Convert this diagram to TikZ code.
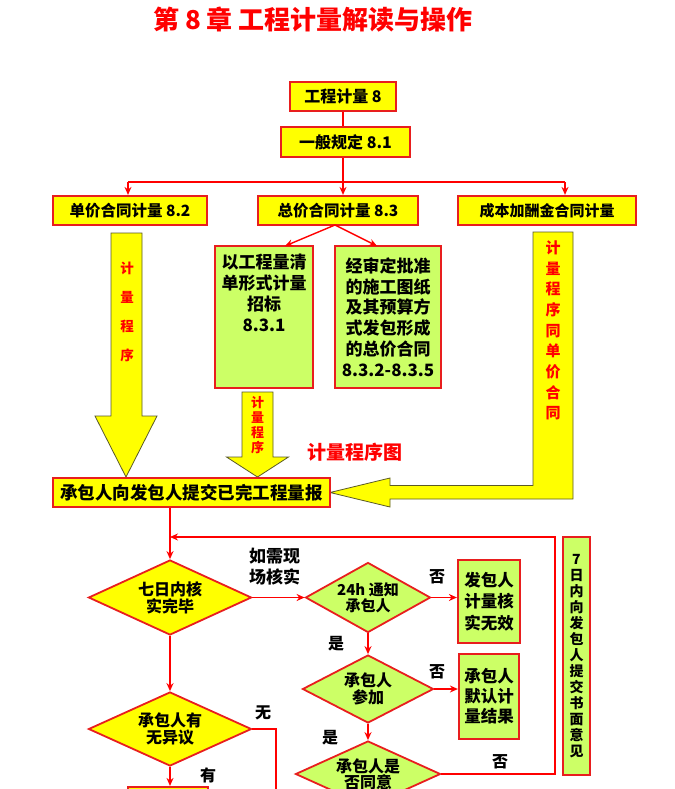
\documentclass[tikz,border=0pt]{standalone}
\usepackage{fontspec}
\setmainfont{Noto Sans CJK SC}
\usetikzlibrary{shapes.geometric,arrows.meta}
\definecolor{ylw}{RGB}{255,255,0}
\definecolor{lgreen}{RGB}{204,255,102}
\definecolor{bred}{RGB}{232,30,30}
\definecolor{olv}{RGB}{90,90,40}
\begin{document}
\begin{tikzpicture}[x=1pt,y=-1pt,
  conn/.style={draw=red, line width=1.4pt},
  arr/.style={conn, -{Stealth[length=8pt,width=7pt]}},
  box/.style={rectangle, draw=bred, line width=2.2pt, fill=ylw, inner sep=0pt, align=center, font=\bfseries\fontsize{15.5}{18}\selectfont},
  gbox/.style={box, fill=lgreen, font=\bfseries\fontsize{17}{20.8}\selectfont},
  dia/.style={diamond, draw=bred, line width=1.8pt, fill=ylw, inner sep=0pt, shape aspect=2, align=center, font=\bfseries\fontsize{16}{17}\selectfont},
  bigarrow/.style={draw=olv, line width=0.8pt, fill=ylw, line join=miter},
  rtxt/.style={text=red, align=center, inner sep=0pt},
  lbl/.style={font=\bfseries\fontsize{16}{20}\selectfont, inner sep=0pt, align=left}
]
\useasboundingbox (0,0) rectangle (674,789);
\fill[white] (0,0) rectangle (674,789);
\clip (0,0) rectangle (674,789);

% title
\node[text=red, font=\bfseries\fontsize{26}{29}\selectfont, inner sep=0pt] (title) at (313,20) {第 8 章 工程计量解读与操作};

% top boxes
\node[box, minimum width=106, minimum height=29, font=\bfseries\fontsize{16}{18}\selectfont] (b1) at (343,96.5) {工程计量 8};
\node[box, minimum width=129, minimum height=30, font=\bfseries\fontsize{16}{18}\selectfont] (b2) at (345.5,142) {一般规定 8.1};
\node[box, minimum width=154, minimum height=29] (b3) at (130,210.5) {单价合同计量 8.2};
\node[box, minimum width=160, minimum height=29] (b4) at (338,210.5) {总价合同计量 8.3};
\node[box, minimum width=178, minimum height=29, font=\bfseries\fontsize{15}{18}\selectfont] (b5) at (547,210.5) {成本加酬金合同计量};

\coordinate (j) at (343,182);
\coordinate (jl) at (128,182);
\coordinate (jr) at (565,182);
\draw[conn] (b1.south -| j) -- (j |- b2.north);
\draw[conn] (j |- b2.south) -- (j);
\draw[conn] (jl) -- (jr);
\draw[arr] (jl) -- (jl |- b3.north);
\draw[arr] (j) -- (j |- b4.north);
\draw[arr] (jr) -- (jr |- b5.north);

% green boxes under 8.3
\node[gbox, minimum width=98, minimum height=142] (b6) at (264,317) {};
\node[font=\bfseries\fontsize{17}{20.8}\selectfont, align=center, inner sep=0pt, anchor=north] (b6t) at (264,254) {以工程量清\\单形式计量\\招标\\8.3.1};
\node[gbox, minimum width=106, minimum height=142] (b7) at (388,317) {经审定批准\\的施工图纸\\及其预算方\\式发包形成\\的总价合同\\8.3.2-8.3.5};
\coordinate (b4o) at (335,225);
\draw[arr] (b4o) -- (285,246);
\draw[arr] (b4o) -- (377,246);

% big arrows
\draw[bigarrow] (111,233) -- (142,233) -- (142,416) -- (157,416) -- (126,477) -- (95,416) -- (111,416) -- cycle;
\node[rtxt, font=\bfseries\fontsize{13.5}{29}\selectfont] (la) at (127,311.5) {计\\量\\程\\序};

\draw[bigarrow] (242,392) -- (273,392) -- (273,457) -- (288.5,457) -- (257.5,477) -- (226.5,457) -- (242,457) -- cycle;
\node[rtxt, font=\bfseries\fontsize{13}{15}\selectfont] (sa) at (257.5,425.5) {计\\量\\程\\序};

\draw[bigarrow] (533,232) -- (573,232) -- (573,499) -- (390,499) -- (390,507) -- (330,492.5) -- (390,478) -- (390,485.5) -- (533,485.5) -- cycle;
\node[rtxt, font=\bfseries\fontsize{15}{20.7}\selectfont] (ra) at (553,330.5) {计\\量\\程\\序\\同\\单\\价\\合\\同};

\node[rtxt, font=\bfseries\fontsize{19}{22}\selectfont] (cap) at (355,452) {计量程序图};

% report box
\node[box, minimum width=277, minimum height=29, font=\bfseries\fontsize{17.5}{20}\selectfont] (b8) at (191.5,492.5) {承包人向发包人提交已完工程量报};

% flowchart
\node[dia, minimum width=163, minimum height=75] (d1) at (170,597.5) {七日内核\\实完毕};
\node[dia, fill=lgreen, minimum width=125, minimum height=70, font=\bfseries\fontsize{15}{16}\selectfont] (d2) at (368,597.5) {24h 通知\\承包人};
\node[dia, fill=lgreen, minimum width=131, minimum height=68] (d3) at (368,689) {承包人\\参加};
\node[dia, fill=lgreen, minimum width=145, minimum height=66, font=\bfseries\fontsize{16}{16}\selectfont] (d4) at (368,774) {承包人是\\否同意};
\node[dia, minimum width=163, minimum height=74] (d5) at (170,729) {承包人有\\无异议};

\node[gbox, minimum width=62, minimum height=83, font=\bfseries\fontsize{16.5}{21.5}\selectfont] (b9) at (489,601.5) {发包人\\计量核\\实无效};
\node[gbox, minimum width=60, minimum height=85, font=\bfseries\fontsize{16.5}{20}\selectfont] (b10) at (489,696.5) {承包人\\默认计\\量结果};
\node[gbox, minimum width=27, minimum height=238, font=\bfseries\fontsize{14}{16}\selectfont] (b11) at (576.5,656) {7\\日\\内\\向\\发\\包\\人\\提\\交\\书\\面\\意\\见};
\node[box, minimum width=80, minimum height=40] (b12) at (168,807) {};

\coordinate (lpc) at (555,537);
\coordinate (nofree) at (276,800);
\draw[arr] (b8.south -| d1.north) -- (d1.north);
\draw[arr] (d4.east) -| (lpc) -- (lpc -| d1.north);
\draw[arr] (d1.east) -- (d2.west);
\draw[arr] (d2.east) -- (d2.east -| b9.west);
\draw[arr] (d2.south) -- (d3.north);
\draw[arr] (d3.east) -- (d3.east -| b10.west);
\draw[arr] (d3.south) -- (d4.north);
\draw[arr] (d1.south) -- (d5.north);
\draw[conn] (d5.east) -| (nofree);
\draw[arr] (d5.south) -- (d5.south |- b12.north);

% labels
\node[lbl, anchor=west, font=\bfseries\fontsize{17}{21}\selectfont] (l1) at (249,567) {如需现\\场核实};
\node[lbl] (l2) at (437,577) {否};
\node[lbl] (l3) at (336,644) {是};
\node[lbl] (l4) at (437,672) {否};
\node[lbl] (l5) at (330,738) {是};
\node[lbl] (l6) at (500,762) {否};
\node[lbl] (l7) at (263,713) {无};
\node[lbl] (l8) at (208,775) {有};
\end{tikzpicture}
\end{document}
